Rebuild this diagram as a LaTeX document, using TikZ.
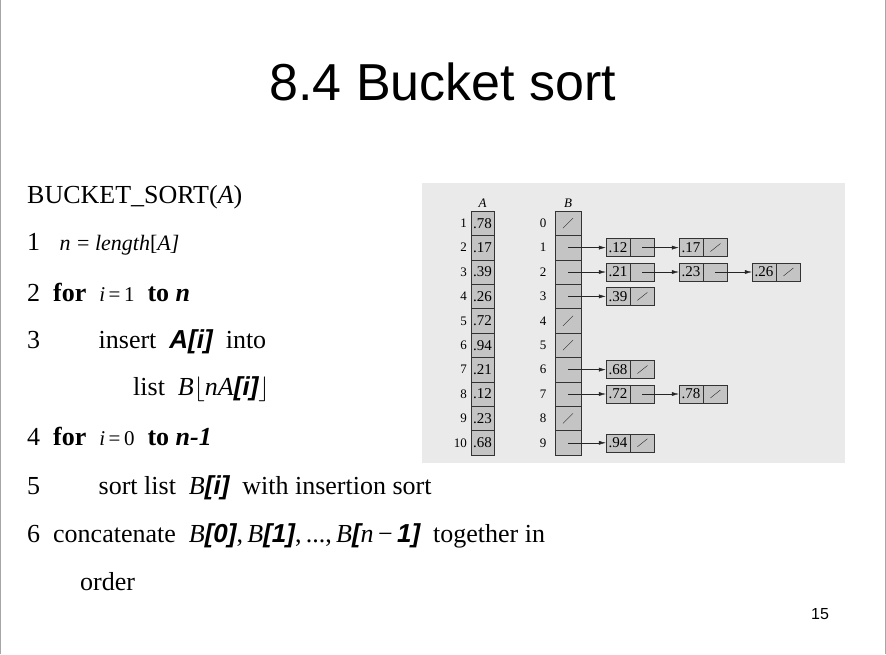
\documentclass[tikz,border=0pt]{standalone}
\usepackage{fontspec}
\setmainfont{Liberation Serif}
\setsansfont{Liberation Sans}
\newfontfamily\codesans{Liberation Sans}
\usetikzlibrary{arrows.meta}
\definecolor{cellgray}{HTML}{C4C4C4}
\definecolor{panel}{HTML}{EAEAEA}
\begin{document}
\begin{tikzpicture}[x=1pt,y=-1pt,
  cellbox/.style={draw=black!80,fill=cellgray,minimum width=23pt,minimum height=24.4pt,inner sep=0pt,font=\fontsize{15}{15}\selectfont},
  bcell/.style={draw=black!80,fill=cellgray,minimum width=26pt,minimum height=24.4pt,inner sep=0pt},
  half/.style={draw=black!80,fill=cellgray,minimum width=24pt,minimum height=18pt,inner sep=0pt,font=\fontsize{15}{15}\selectfont},
  idx/.style={font=\fontsize{13}{13}\selectfont,inner sep=0pt},
  hdr/.style={font=\fontsize{13}{13}\selectfont\itshape,inner sep=0pt},
  ptr/.style={-{Latex[length=7pt,width=4pt]},black!85,thin},
  code/.style={anchor=base west,inner sep=0pt,font=\fontsize{26}{26}\selectfont},
  slash/.style={black!85,thin}]
\useasboundingbox (0,0) rectangle (886,654);
\draw[gray!70,line width=1.5pt] (0.7,0) -- (0.7,654) (885.3,0) -- (885.3,654);
\node[font=\sffamily\fontsize{52}{52}\selectfont] (title) at (443,82) {8.4 Bucket sort};
\node[code] (l0) at (27,203) {BUCKET\_SORT(\textit{A})};
\node[code] (l1) at (27,250) {1 \ \ {\fontsize{22}{22}\selectfont\itshape n} {\fontsize{22}{22}\selectfont = \itshape length}{\fontsize{22}{22}\selectfont[\itshape A]}};
\node[code] (l2) at (27,301) {2 \ \textbf{for} \ {\fontsize{21}{21}\selectfont\itshape i\,\upshape=\,1} \ \textbf{to} \textbf{\itshape n}};
\node[code] (l3) at (27,348) {3 \qquad insert \ {\codesans\bfseries\itshape A[i]} \ into};
\node[code] (l3b) at (133,395) {list \ \textit{B}$\lfloor$\textit{nA}{\codesans\bfseries\itshape[i]}$\rfloor$};
\node[code] (l4) at (27,445) {4 \ \textbf{for} \ {\fontsize{21}{21}\selectfont\itshape i\,\upshape=\,0} \ \textbf{to \itshape n-1}};
\node[code] (l5) at (27,494) {5 \qquad sort list \ \textit{B}{\codesans\bfseries\itshape[i]} \ with insertion sort};
\node[code] (l6) at (27,542) {6 \ concatenate \ \textit{B}{\codesans\bfseries\itshape[0]},\,\textit{B}{\codesans\bfseries\itshape[1]},\,...,\,\textit{B}{\codesans\bfseries\itshape[}\textit{n}\,\textminus\,{\codesans\bfseries\itshape1]} \ together in};
\node[code] (l6b) at (80,590) {order};
\node[font=\sffamily\fontsize{16}{16}\selectfont] (pg) at (820,614) {15};
\fill[panel] (422,183) rectangle (845,463);
\node[hdr] (hA) at (482.5,203) {A};
\node[hdr] (hB) at (568,203) {B};
\foreach \v [count=\i] in {.78,.17,.39,.26,.72,.94,.21,.12,.23,.68} {
  \node[cellbox] (a\i) at (482.5,{211+24.4*(\i-0.5)}) {\v};
  \node[idx,anchor=east] (ai\i) at (467,{211+24.4*(\i-0.5)}) {\i};
}
\foreach \i in {0,...,9} {
  \node[bcell] (b\i) at (568,{211+24.4*(\i+0.5)}) {};
  \node[idx] (bi\i) at (543,{211+24.4*(\i+0.5)}) {\i};
}
\foreach \i in {0,4,5,8} \draw[slash] ([xshift=-5pt,yshift=-5pt]b\i.center) -- ([xshift=5pt,yshift=5pt]b\i.center);
\newcommand{\lnode}[4]{%
  \node[half] (#1v) at (#3,{211+24.4*(#2+0.5)}) {#4};
  \node[half,anchor=west] (#1p) at (#1v.east) {};
}
\lnode{n11}{1}{618}{.12}\lnode{n12}{1}{691}{.17}
\lnode{n21}{2}{618}{.21}\lnode{n22}{2}{691}{.23}\lnode{n23}{2}{764}{.26}
\lnode{n31}{3}{618}{.39}
\lnode{n61}{6}{618}{.68}
\lnode{n71}{7}{618}{.72}\lnode{n72}{7}{691}{.78}
\lnode{n91}{9}{618}{.94}
\foreach \n in {n12,n23,n31,n61,n72,n91} \draw[slash] ([xshift=-5pt,yshift=-4pt]\n p.center) -- ([xshift=5pt,yshift=4pt]\n p.center);
\foreach \i/\n in {1/n11,2/n21,3/n31,6/n61,7/n71,9/n91} \draw[ptr] (b\i.center) -- (\n v.west);
\draw[ptr] (n11p.center) -- (n12v.west);
\draw[ptr] (n21p.center) -- (n22v.west);
\draw[ptr] (n22p.center) -- (n23v.west);
\draw[ptr] (n71p.center) -- (n72v.west);
\end{tikzpicture}
\end{document}
